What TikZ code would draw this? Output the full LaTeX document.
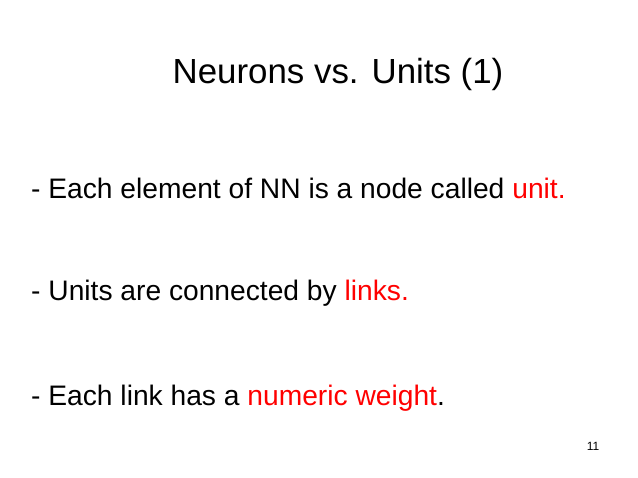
\documentclass[tikz,border=0pt]{standalone}
\usepackage{fontspec}
\setmainfont{Liberation Sans}
\definecolor{hl}{RGB}{255,0,0}
\begin{document}
\begin{tikzpicture}[x=1bp,y=-1bp,
  body/.style={anchor=west,inner sep=0pt,font=\fontsize{28.3}{32}\selectfont}]
\useasboundingbox[fill=white] (0,0) rectangle (638,478);
\node[inner sep=0pt,font=\fontsize{35}{40}\selectfont] (title) at (338,74) {Neurons vs. Units (1)};
\node[body] (l1) at (31,188) {- Each element of NN is a node called \textcolor{hl}{unit.}};
\node[body] (l2) at (31,293) {- Units are connected by \textcolor{hl}{links.}};
\node[body] (l3) at (31,398) {- Each link has a \textcolor{hl}{numeric weight}.};
\node[inner sep=0pt,font=\fontsize{12}{14}\selectfont] (pg) at (593,446) {11};
\end{tikzpicture}
\end{document}
